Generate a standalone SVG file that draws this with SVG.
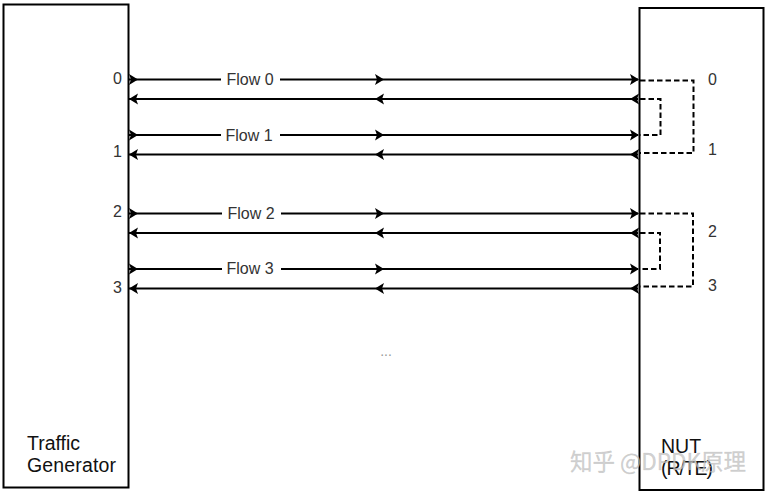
<svg xmlns="http://www.w3.org/2000/svg" width="767" height="495" viewBox="0 0 767 495">
<style>
text{font-family:"Liberation Sans",Arial,sans-serif;fill:#333}
.n{font-size:16px}
.t{font-size:19.5px;fill:#111}
.c{text-anchor:middle}
.box{fill:#fff;stroke:#000;stroke-width:2}
.l{fill:none;stroke:#000;stroke-width:2}
.d{fill:none;stroke:#000;stroke-width:2;stroke-dasharray:5.500 3}
.bg{fill:#fff}
.wm{font-family:"Noto Sans CJK SC","Liberation Sans",sans-serif;font-size:22.500px;fill:#c4c4c4;fill-opacity:.75;stroke:#8a8a8a;stroke-opacity:.25;stroke-width:.5}
</style>
<defs>
<path id="r" d="M-9-5.500L0 0L-9 5.500L-7 0Z" fill="#000"/>
<path id="f" d="M9-5.500L0 0L9 5.500L7 0Z" fill="#000"/>
</defs>
<g id="traffic-generator">
<rect class="box" x="3.500" y="4.500" width="125" height="483"/>
<text class="t" x="27" y="450">Traffic</text>
<text class="t" x="27" y="471.500" textLength="89">Generator</text>
</g>
<g id="nut">
<rect class="box" x="639.500" y="8" width="124" height="482"/>
<text class="t" x="661" y="453">NUT</text>
<text class="t" x="661" y="475" textLength="52">(R/TE)</text>
</g>
<g id="connectors">
<path class="l" d="M129 79.500H638M129 99H638M129 135H638M129 154.500H638M129 213.500H638M129 233H638M129 269H638M129 288.500H638"/>
<path class="d" d="M640 80.500H693.500V153H640M640 99H660.500V135H640M640 213.500H693V286.500H640M640 233H660V269H640"/>
<use href="#r" x="138" y="79.500"/><use href="#r" x="384" y="79.500"/><use href="#r" x="639" y="79.500"/>
<use href="#f" x="129" y="99"/><use href="#f" x="375" y="99"/><use href="#f" x="630" y="99"/>
<use href="#r" x="138" y="135"/><use href="#r" x="384" y="135"/><use href="#r" x="639" y="135"/>
<use href="#f" x="129" y="154.500"/><use href="#f" x="375" y="154.500"/><use href="#f" x="630" y="154.500"/>
<use href="#r" x="138" y="213.500"/><use href="#r" x="384" y="213.500"/><use href="#r" x="639" y="213.500"/>
<use href="#f" x="129" y="233"/><use href="#f" x="375" y="233"/><use href="#f" x="630" y="233"/>
<use href="#r" x="138" y="269"/><use href="#r" x="384" y="269"/><use href="#r" x="639" y="269"/>
<use href="#f" x="129" y="288.500"/><use href="#f" x="375" y="288.500"/><use href="#f" x="630" y="288.500"/>
</g>
<g id="flow-labels">
<rect class="bg" x="221" y="70" width="59" height="18"/>
<text class="n c" x="250" y="85">Flow 0</text>
<rect class="bg" x="221" y="126" width="59" height="18"/>
<text class="n c" x="249" y="141">Flow 1</text>
<rect class="bg" x="222" y="204" width="59" height="18"/>
<text class="n c" x="251" y="219">Flow 2</text>
<rect class="bg" x="222" y="260" width="59" height="18"/>
<text class="n c" x="250" y="274">Flow 3</text>
</g>
<g id="port-labels">
<text class="n" x="113" y="84">0</text>
<text class="n" x="113" y="157">1</text>
<text class="n" x="113" y="217">2</text>
<text class="n" x="113" y="293">3</text>
<text class="n" x="708" y="85">0</text>
<text class="n" x="708" y="155">1</text>
<text class="n" x="708" y="237">2</text>
<text class="n" x="708" y="291">3</text>
</g>
<text x="386" y="356" class="c" style="font-size:14px;fill:#999">...</text>
<text class="wm" x="570" y="470">知乎 @DPDK原理</text>
</svg>
